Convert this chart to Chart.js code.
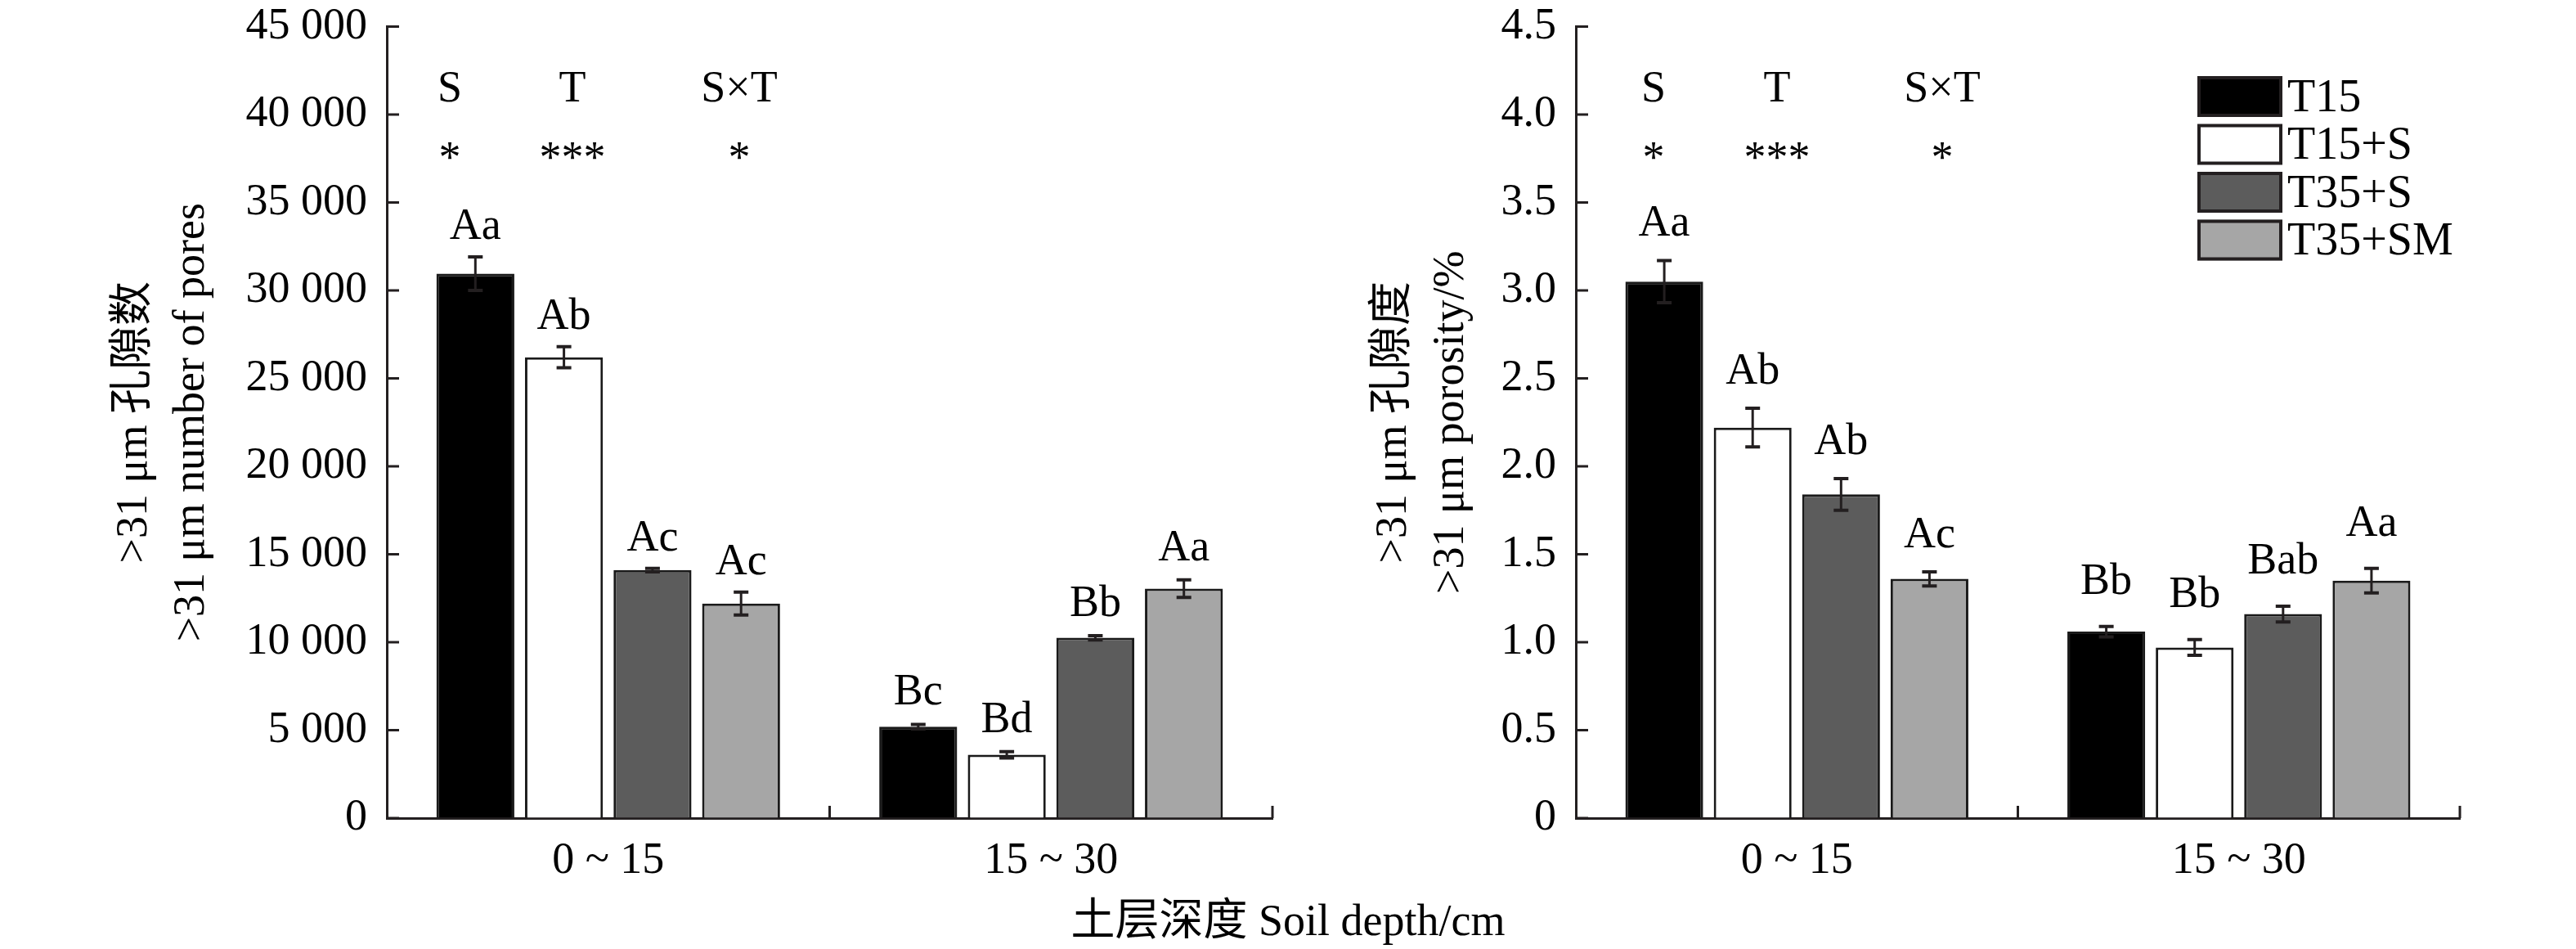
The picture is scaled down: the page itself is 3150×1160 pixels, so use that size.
<!DOCTYPE html>
<html>
<head>
<meta charset="utf-8">
<script src="https://cdn.jsdelivr.net/npm/chart.js@4.4.1/dist/chart.umd.min.js"></script>
<style>
  body { margin: 0; background: #fff; width: 3150px; height: 1160px; position: relative; overflow: hidden; }
  canvas { position: absolute; top: 0; }
  #poresChart { left: 0; }
  #porosityChart { left: 1575px; }
  #xTitle { position: absolute; left: 0; width: 3150px; top: 1093px; text-align: center;
            font: 54px/64px "Liberation Serif", "Noto Sans CJK SC", serif; color: #000; white-space: nowrap; }
</style>
</head>
<body>
<canvas id="poresChart" width="1575" height="1160"></canvas>
<canvas id="porosityChart" width="1575" height="1160"></canvas>
<div id="xTitle">土层深度 Soil depth/cm</div>
<script>
// soil depth groups and treatments
var depths = ['0 ~ 15', '15 ~ 30'];
var treatments = ['T15', 'T15+S', 'T35+S', 'T35+SM'];
var fills = ['#000000', '#ffffff', '#5c5c5c', '#a6a6a6'];

// >31 um number of pores (mean, error, letters) per treatment
var poresT15 = [30950, 5200];
var poresT15S = [26200, 3600];
var poresT35S = [14100, 10250];
var poresT35SM = [12200, 13050];
var poresErr = [[950, 130], [600, 180], [100, 120], [650, 500]];
var poresLetters = [['Aa', 'Bc'], ['Ab', 'Bd'], ['Ac', 'Bb'], ['Ac', 'Aa']];

// >31 um porosity (%)
var porT15 = [3.05, 1.06];
var porT15S = [2.22, 0.97];
var porT35S = [1.84, 1.16];
var porT35SM = [1.36, 1.35];
var porErr = [[0.12, 0.03], [0.11, 0.045], [0.09, 0.045], [0.04, 0.07]];
var porLetters = [['Aa', 'Bb'], ['Ab', 'Bb'], ['Ab', 'Bab'], ['Ac', 'Aa']];

// two-way significance
var effects = ['S', 'T', 'S×T'];
var stars = ['*', '***', '*'];

var FONT = '"Liberation Serif", "Noto Sans CJK SC", serif';
var INK = '#231f20';

Chart.defaults.font.family = FONT;
Chart.defaults.font.size = 54;
Chart.defaults.color = '#000';
Chart.defaults.animation = false;

// error bars + letters above each bar
var errorBars = {
    id: 'errorBars',
    afterDatasetsDraw: function(chart, args, opts) {
        var ctx = chart.ctx, y = chart.scales.y;
        ctx.save();
        ctx.strokeStyle = INK;
        ctx.fillStyle = '#000';
        ctx.font = '54px ' + FONT;
        ctx.textAlign = 'center';
        ctx.textBaseline = 'alphabetic';
        chart.data.datasets.forEach(function(ds, i) {
            chart.getDatasetMeta(i).data.forEach(function(bar, j) {
                var v = ds.data[j], e = ds.errors[j];
                var top = y.getPixelForValue(v + e), bot = y.getPixelForValue(v - e);
                ctx.lineWidth = 3;
                ctx.beginPath();
                ctx.moveTo(bar.x, top); ctx.lineTo(bar.x, bot);
                ctx.stroke();
                ctx.lineWidth = 4;
                ctx.beginPath();
                ctx.moveTo(bar.x - 9, top); ctx.lineTo(bar.x + 9, top);
                ctx.moveTo(bar.x - 9, bot); ctx.lineTo(bar.x + 9, bot);
                ctx.stroke();
                ctx.fillText(ds.letters[j], bar.x, top - opts.gap[j]);
            });
        });
        ctx.restore();
    }
};

// inward tick marks like the original plot
var inTicks = {
    id: 'inTicks',
    afterDraw: function(chart) {
        var ctx = chart.ctx, a = chart.chartArea, x = chart.scales.x, y = chart.scales.y;
        ctx.save();
        ctx.strokeStyle = INK;
        ctx.lineWidth = 3;
        ctx.beginPath();
        y.ticks.forEach(function(t, i) {
            var py = y.getPixelForTick(i);
            ctx.moveTo(a.left, py); ctx.lineTo(a.left + 15, py);
        });
        var half = (x.getPixelForValue(1) - x.getPixelForValue(0)) / 2;
        for (var k = 0; k < depths.length; k++) {
            var px = x.getPixelForValue(k) + half;
            ctx.moveTo(px, a.bottom); ctx.lineTo(px, a.bottom - 15);
        }
        ctx.stroke();
        ctx.restore();
    }
};

// S / T / SxT significance row
var sigRow = {
    id: 'sigRow',
    afterDraw: function(chart, args, opts) {
        var ctx = chart.ctx, a = chart.chartArea;
        ctx.save();
        ctx.fillStyle = '#000';
        ctx.font = '54px ' + FONT;
        ctx.textAlign = 'center';
        ctx.textBaseline = 'alphabetic';
        effects.forEach(function(t, i) {
            ctx.fillText(t, a.left + opts.dx[i], 124);
            ctx.fillText(stars[i], a.left + opts.dx[i], 210);
        });
        ctx.restore();
    }
};

// boxed legend in the porosity panel
var boxLegend = {
    id: 'boxLegend',
    afterDraw: function(chart, args, opts) {
        if (!opts.show) return;
        var ctx = chart.ctx;
        ctx.save();
        ctx.font = '56px ' + FONT;
        ctx.textAlign = 'left';
        ctx.textBaseline = 'middle';
        chart.data.datasets.forEach(function(ds, i) {
            var by = opts.y + i * 58.5;
            ctx.fillStyle = ds.backgroundColor;
            ctx.fillRect(opts.x, by, 104, 50);
            ctx.strokeStyle = INK;
            ctx.lineWidth = 4;
            ctx.strokeRect(opts.x + 2, by + 2, 100, 46);
            ctx.fillStyle = '#000';
            ctx.fillText(ds.label, opts.x + 110, by + 28);
        });
        ctx.restore();
    }
};

function buildSets(series, errs, letters) {
    return series.map(function(d, i) {
        return {
            label: treatments[i],
            data: d,
            errors: errs[i],
            letters: letters[i],
            backgroundColor: fills[i],
            borderColor: '#1a1a1a',
            borderWidth: 3,
            categoryPercentage: 0.8,
            barPercentage: 0.88
        };
    });
}

function makeChart(id, sets, opt) {
    return new Chart(document.getElementById(id), {
        type: 'bar',
        data: { labels: depths, datasets: sets },
        options: {
            responsive: false,
            layout: { padding: { top: 32, right: opt.padRight, left: 0, bottom: 0 } },
            plugins: {
                legend: { display: false },
                tooltip: { enabled: false },
                errorBars: { gap: opt.gap },
                sigRow: { dx: opt.sigDx },
                boxLegend: opt.legend
            },
            scales: {
                x: {
                    grid: { display: true, drawOnChartArea: false, drawTicks: true, tickLength: 20, tickColor: 'rgba(0,0,0,0)' },
                    border: { display: true, color: INK, width: 3 },
                    ticks: { padding: 0, color: '#000', font: { family: FONT, size: 54 } },
                    afterFit: function(s) { s.height = 160; }
                },
                y: {
                    min: 0,
                    max: opt.max,
                    grid: { display: true, drawOnChartArea: false, drawTicks: true, tickLength: 24, tickColor: 'rgba(0,0,0,0)' },
                    border: { display: true, color: INK, width: 3 },
                    ticks: { stepSize: opt.step, padding: 0, color: '#000', callback: opt.fmt, font: { family: FONT, size: 54 } },
                    title: {
                        display: true,
                        text: opt.title,
                        color: '#000',
                        font: { family: FONT, size: 54, lineHeight: 1.3 },
                        padding: { top: opt.titlePad, bottom: 0 }
                    },
                    afterFit: function(s) { s.width = opt.axisX; }
                }
            }
        },
        plugins: [errorBars, inTicks, sigRow, boxLegend]
    });
}

makeChart('poresChart',
    buildSets([poresT15, poresT15S, poresT35S, poresT35SM], poresErr, poresLetters), {
        max: 45000, step: 5000, axisX: 473, padRight: 19, titlePad: 130, gap: [22, 24],
        sigDx: [77, 227, 431],
        legend: { show: false },
        title: ['>31 μm 孔隙数', '>31 μm number of pores'],
        fmt: function(v) { return v === 0 ? '0' : String(v).replace(/(\d)(?=(\d{3})$)/, '$1 '); }
    });

makeChart('porosityChart',
    buildSets([porT15, porT15S, porT35S, porT35SM], porErr, porLetters), {
        max: 4.5, step: 0.5, axisX: 352, padRight: 142, titlePad: 95, gap: [30, 40],
        sigDx: [95, 246, 448],
        legend: { show: true, x: 1112, y: 93 },
        title: ['>31 μm 孔隙度', '>31 μm porosity/%'],
        fmt: function(v) { return v === 0 ? '0' : v.toFixed(1); }
    });
</script>
</body>
</html>
